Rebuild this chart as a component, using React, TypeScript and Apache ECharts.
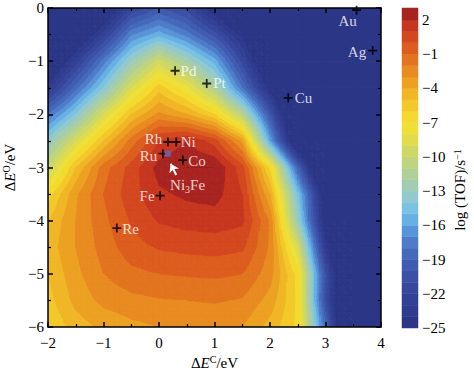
import React, { useEffect, useRef } from "react";
import * as echarts from "echarts";

// ---- sampled field: columns = ΔE^C (eV), rows = ΔE^O (eV) ----
const EC_GRID: number[] = [-2, -1.5, -1, -0.5, 0, 0.5, 1, 1.5, 2, 2.5, 3, 3.5, 4];
const EO_GRID: number[] = [0, -0.5, -1, -1.5, -2, -2.5, -3, -3.5, -4, -4.5, -5, -5.5, -6];

// log(TOF) (row = EO_GRID, column = EC_GRID)
const LOG_TOF: number[][] = [
  [-37, -32, -27, -22, -20, -21.5, -25.5, -30.5, -35.5, -40.5, -45.5, -50.5, -55.5],
  [-32, -27, -22.5, -17.2, -15.5, -17.5, -20.5, -24.5, -29.5, -34.5, -39.5, -44.5, -49.5],
  [-27.6, -22.6, -17.6, -13, -9.5, -12.3, -15.5, -21.5, -28, -34, -40, -46, -52],
  [-23.5, -18.5, -14, -9, -5.5, -7.8, -11.5, -18, -25, -31, -37, -43, -49],
  [-18, -14, -9, -5, -2.8, -4, -6, -11, -20, -30, -37, -43, -49],
  [-13.5, -9, -5, -1.6, 1.0, 2.0, 0.5, -3.4, -16, -28, -36, -43, -50],
  [-10, -5, -1.5, 0.4, 2.4, 3.0, 3.0, 0.4, -6.4, -19, -31, -40, -48],
  [-6.5, -3.2, -1.0, 0.6, 1.8, 2.2, 2.4, 1.0, -4, -14.5, -26, -36, -45],
  [-5, -3.0, -1.3, 0.1, 1.1, 1.4, 1.5, 1.2, -2.2, -13, -25.5, -35, -44],
  [-4.6, -3.0, -1.6, -0.4, 0.1, 0.3, 0.4, 0.2, -2.2, -9, -23.5, -34, -44],
  [-5, -3.3, -2.0, -1.3, -1.0, -0.9, -0.8, -1.0, -2.6, -6.5, -20.7, -31, -41],
  [-5.4, -3.7, -2.7, -2.3, -2.1, -2.0, -1.9, -2.1, -3.4, -6.3, -21, -32, -42],
  [-6, -4.5, -3.8, -3.3, -3.0, -2.9, -2.8, -3.0, -4.4, -6.3, -18.6, -33, -43],
];

// contour levels (log TOF) and colour-bar tick labels
const CONTOUR_LEVELS: number[] = [
  -25, -24, -23, -22, -21, -20, -19, -18, -17, -16, -15, -14, -13, -12, -11, -10,
  -9, -8, -7, -6, -5, -4, -3, -2, -1, 0, 1, 2, 3,
];
const CBAR_TICKS: number[] = [-25, -22, -19, -16, -13, -10, -7, -4, -1, 2];
const CBAR_TOP = 3.05;
const X_TICKS: number[] = [-2, -1, 0, 1, 2, 3, 4];
const Y_TICKS: number[] = [0, -1, -2, -3, -4, -5, -6];

// catalysts (crosses)
const METALS: string[] = ["Au", "Ag", "Cu", "Pd", "Pt", "Rh", "Ni", "Ru", "Co", "Fe", "Re"];
const METAL_EC: number[] = [3.56, 3.85, 2.33, 0.29, 0.86, 0.16, 0.31, 0.07, 0.43, 0.02, -0.76];
const METAL_EO: number[] = [-0.04, -0.8, -1.69, -1.18, -1.42, -2.52, -2.52, -2.74, -2.86, -3.53, -4.14];

// Ni3Fe alloy (blue marker) and its label / arrow
const NI3FE_POINT: number[] = [0.16, -2.74];
const NI3FE_LABEL_AT: number[] = [0.2, -3.33];
const NI3FE_ARROW: number[][] = [[0.31, -3.14], [0.21, -2.93]];

// ---------------- styles ----------------
const FONT = "'Liberation Serif', 'Times New Roman', 'DejaVu Serif', serif";
const CMAP: [number, string][] = [
  [-24.5, "#2c3687"],
  [-23, "#303d92"],
  [-21.5, "#36479c"],
  [-20, "#3d56ab"],
  [-18.5, "#4569bb"],
  [-17, "#5285cf"],
  [-16, "#5fa3e0"],
  [-15, "#70bde8"],
  [-14, "#86c7dc"],
  [-13, "#9bcbc0"],
  [-12, "#a9cda6"],
  [-11, "#b7d18c"],
  [-10, "#c7d672"],
  [-9, "#d8da58"],
  [-8, "#e8de42"],
  [-7, "#f4e130"],
  [-6, "#f4d22b"],
  [-5, "#f1bf28"],
  [-4, "#eeac24"],
  [-3, "#ea9620"],
  [-2, "#e57f1f"],
  [-1, "#df681e"],
  [0, "#d9521e"],
  [1, "#cf3e1f"],
  [2, "#be2d1f"],
  [2.5, "#a82420"],
  [3.3, "#9a1c1c"],
];

const LABEL_STYLE: Record<string, any> = {
  Au: { position: "bottom", distance: 0, offset: [-9, -1] },
  Ag: { position: "left", distance: 2, offset: [0, 1] },
  Cu: { position: "right", distance: 2, offset: [0, 0] },
  Pd: { position: "right", distance: 1, offset: [0, 0] },
  Pt: { position: "right", distance: 2, offset: [0, 0] },
  Rh: { position: "left", distance: 1, offset: [0, -3] },
  Ni: { position: "right", distance: 0, offset: [0, 0] },
  Ru: { position: "left", distance: 1, offset: [0, 2] },
  Co: { position: "right", distance: 1, offset: [0, 1] },
  Fe: { position: "left", distance: 1, offset: [0, 0] },
  Re: { position: "right", distance: 1, offset: [0, 1] },
};

const PLUS = "path://M3.6,0H5.4V3.6H9V5.4H5.4V9H3.6V5.4H0V3.6H3.6Z";

function hexToRgb(h: string) {
  return [parseInt(h.slice(1, 3), 16), parseInt(h.slice(3, 5), 16), parseInt(h.slice(5, 7), 16)];
}
function cmap(v: number): string {
  if (v <= CMAP[0][0]) return CMAP[0][1];
  for (let i = 1; i < CMAP.length; i++) {
    if (v <= CMAP[i][0]) {
      const [v0, c0] = CMAP[i - 1];
      const [v1, c1] = CMAP[i];
      const t = (v - v0) / (v1 - v0);
      const a = hexToRgb(c0);
      const b = hexToRgb(c1);
      const r = a.map((x, k) => Math.round(x + (b[k] - x) * t));
      return `rgb(${r[0]},${r[1]},${r[2]})`;
    }
  }
  return CMAP[CMAP.length - 1][1];
}

const NB = CONTOUR_LEVELS.length; // bands 0..NB-1
const BAND_COLORS: string[] = CONTOUR_LEVELS.map((lv, k) =>
  cmap(k < NB - 1 ? (lv + CONTOUR_LEVELS[k + 1]) / 2 : 3.3)
);

function bandOf(v: number): number {
  let k = 0;
  for (let i = 1; i < NB; i++) if (v >= CONTOUR_LEVELS[i]) k = i;
  return k;
}

type P = number[]; // [px, py, value]
function clip(poly: P[], t: number, keepAbove: boolean): P[] {
  const out: P[] = [];
  const n = poly.length;
  for (let i = 0; i < n; i++) {
    const a = poly[i];
    const b = poly[(i + 1) % n];
    const ina = keepAbove ? a[2] >= t : a[2] <= t;
    const inb = keepAbove ? b[2] >= t : b[2] <= t;
    if (ina) out.push(a);
    if (ina !== inb) {
      const r = (t - a[2]) / (b[2] - a[2]);
      out.push([a[0] + r * (b[0] - a[0]), a[1] + r * (b[1] - a[1]), t]);
    }
  }
  return out;
}

function polyEl(pts: number[][], color: string) {
  return {
    type: "polygon",
    silent: true,
    shape: { points: pts },
    style: { fill: color, stroke: color, lineWidth: 1, lineJoin: "round" },
  };
}

function addTri(tri: P[], children: any[]) {
  const vs = tri.map((p) => p[2]);
  const k0 = bandOf(Math.min(vs[0], vs[1], vs[2]));
  const k1 = bandOf(Math.max(vs[0], vs[1], vs[2]));
  if (k0 === k1) {
    children.push(polyEl(tri.map((p) => [p[0], p[1]]), BAND_COLORS[k0]));
    return;
  }
  for (let k = k0; k <= k1; k++) {
    let poly = tri;
    if (k > 0) poly = clip(poly, CONTOUR_LEVELS[k], true);
    if (poly.length >= 3 && k < NB - 1) poly = clip(poly, CONTOUR_LEVELS[k + 1], false);
    if (poly.length >= 3) children.push(polyEl(poly.map((p) => [p[0], p[1]]), BAND_COLORS[k]));
  }
}

const SUB = 5;
function renderField(params: any, api: any) {
  const i = api.value(0);
  const j = api.value(1);
  const xa = EC_GRID[i], xb = EC_GRID[i + 1];
  const ya = EO_GRID[j], yb = EO_GRID[j + 1];
  const q00 = LOG_TOF[j][i], q10 = LOG_TOF[j][i + 1];
  const q01 = LOG_TOF[j + 1][i], q11 = LOG_TOF[j + 1][i + 1];
  const children: any[] = [];
  const kmin = bandOf(Math.min(q00, q10, q01, q11));
  const kmax = bandOf(Math.max(q00, q10, q01, q11));
  if (kmin === kmax) {
    const pts = [[xa, ya], [xb, ya], [xb, yb], [xa, yb]].map((p) => api.coord(p));
    children.push(polyEl(pts, BAND_COLORS[kmin]));
    return { type: "group", children };
  }
  const g: P[][] = [];
  for (let b = 0; b <= SUB; b++) {
    const row: P[] = [];
    const w = b / SUB;
    for (let a = 0; a <= SUB; a++) {
      const u = a / SUB;
      const v = q00 * (1 - u) * (1 - w) + q10 * u * (1 - w) + q01 * (1 - u) * w + q11 * u * w;
      const p = api.coord([xa + u * (xb - xa), ya + w * (yb - ya)]);
      row.push([p[0], p[1], v]);
    }
    g.push(row);
  }
  for (let b = 0; b < SUB; b++) {
    for (let a = 0; a < SUB; a++) {
      addTri([g[b][a], g[b][a + 1], g[b + 1][a + 1]], children);
      addTri([g[b][a], g[b + 1][a + 1], g[b + 1][a]], children);
    }
  }
  return { type: "group", children };
}

function renderBar(params: any, api: any) {
  const k = params.dataIndex;
  const lo = CONTOUR_LEVELS[k];
  const hi = k < NB - 1 ? CONTOUR_LEVELS[k + 1] : CBAR_TOP;
  const p0 = api.coord([0, hi]);
  const p1 = api.coord([1, lo]);
  return {
    type: "rect",
    shape: { x: p0[0], y: p0[1], width: p1[0] - p0[0], height: p1[1] - p0[1] },
    style: { fill: BAND_COLORS[k], stroke: BAND_COLORS[k], lineWidth: 0.5 },
  };
}

const minus = (v: number) => String(v).replace("-", "\u2212");
const near = (arr: number[], v: number) => arr.some((t) => Math.abs(t - v) < 1e-6);

const frameAxis = (extra: any) => ({
  type: "value",
  gridIndex: 0,
  z: 10,
  interval: 1,
  splitLine: { show: false },
  axisLine: { show: true, onZero: false, lineStyle: { color: "#000", width: 1.5 } },
  axisTick: { show: true, inside: true, length: 5, lineStyle: { color: "#000", width: 1.5 } },
  minorTick: { show: true, splitNumber: 2, length: 3, lineStyle: { color: "#000", width: 1.2 } },
  ...extra,
});

const labelFont = { fontFamily: FONT, fontSize: 15, color: "#000" };

export default function App() {
  const ref = useRef<HTMLDivElement>(null);
  useEffect(() => {
    document.body.style.margin = "0";
    if (!ref.current) return;
    const chart = echarts.init(ref.current, undefined, { renderer: "svg" });

    const cells: number[][] = [];
    for (let j = 0; j < EO_GRID.length - 1; j++)
      for (let i = 0; i < EC_GRID.length - 1; i++) cells.push([i, j]);

    const nameRich = {
      d: { fontFamily: FONT, fontSize: 15, color: "#000", lineHeight: 16 },
      e: { fontFamily: FONT, fontSize: 15, fontStyle: "italic", color: "#000", lineHeight: 16 },
      s: { fontFamily: FONT, fontSize: 10, color: "#000", verticalAlign: "top", lineHeight: 10 },
    };

    const option: any = {
      animation: false,
      backgroundColor: "#ffffff",
      grid: [
        { left: 48, top: 8, width: 333, height: 319, containLabel: false, outerBoundsMode: "none" },
        { left: 402, top: 8, width: 16, height: 320, containLabel: false, outerBoundsMode: "none" },
      ],
      xAxis: [
        frameAxis({
          min: -2,
          max: 4,
          position: "bottom",
          axisLabel: {
            ...labelFont,
            margin: 8,
            formatter: (v: number) => (near(X_TICKS, v) ? minus(v) : ""),
          },
          name: "{d|Δ}{e|E}{s|C}{d|/eV}",
          nameLocation: "middle",
          nameGap: 22,
          nameTextStyle: { rich: nameRich },
        }),
        frameAxis({ min: -2, max: 4, position: "top", axisLabel: { show: false } }),
        { type: "value", gridIndex: 1, min: 0, max: 1, show: false },
      ],
      yAxis: [
        frameAxis({
          min: -6,
          max: 0,
          position: "left",
          axisLabel: {
            ...labelFont,
            margin: 4,
            formatter: (v: number) => (near(Y_TICKS, v) ? minus(v) : ""),
          },
          name: "{d|Δ}{e|E}{s|O}{d|/eV}",
          nameLocation: "middle",
          nameRotate: 90,
          nameGap: 29,
          nameTextStyle: { rich: nameRich },
        }),
        frameAxis({ min: -6, max: 0, position: "right", axisLabel: { show: false } }),
        {
          type: "value",
          gridIndex: 1,
          min: -25,
          max: CBAR_TOP,
          interval: 3,
          position: "right",
          axisLine: { show: false },
          axisTick: { show: false },
          splitLine: { show: false },
          axisLabel: {
            ...labelFont,
            margin: 4,
            showMaxLabel: false,
            formatter: (v: number) => (near(CBAR_TICKS, v) ? minus(Math.round(v)) : ""),
          },
        },
      ],
      graphic: [
        {
          type: "text",
          x: 460,
          y: 190,
          rotation: Math.PI / 2,
          style: {
            text: "{d|log (TOF)/s}{s|\u22121}",
            rich: nameRich,
            align: "center",
            verticalAlign: "middle",
          },
        },
      ],
      series: [
        {
          type: "custom",
          xAxisIndex: 0,
          yAxisIndex: 0,
          renderItem: renderField,
          data: cells,
          clip: true,
          silent: true,
          z: 1,
        },
        {
          type: "custom",
          xAxisIndex: 2,
          yAxisIndex: 2,
          renderItem: renderBar,
          data: CONTOUR_LEVELS.map((lv) => [0, lv]),
          silent: true,
          z: 1,
        },
        {
          type: "scatter",
          xAxisIndex: 0,
          yAxisIndex: 0,
          symbol: PLUS,
          symbolSize: 9,
          itemStyle: { color: "#000" },
          z: 5,
          label: { show: true, formatter: "{b}", color: "#fff", fontFamily: FONT, fontSize: 15 },
          data: METALS.map((n, i) => ({
            name: n,
            value: [METAL_EC[i], METAL_EO[i]],
            label: LABEL_STYLE[n],
          })),
        },
        {
          type: "scatter",
          xAxisIndex: 0,
          yAxisIndex: 0,
          symbol: "rect",
          symbolSize: 6,
          itemStyle: { color: "#5a6cc4" },
          z: 6,
          data: [NI3FE_POINT],
        },
        {
          type: "scatter",
          xAxisIndex: 0,
          yAxisIndex: 0,
          symbolSize: 0,
          z: 6,
          label: {
            show: true,
            position: "right",
            distance: 0,
            formatter: "{a|Ni}{b|3}{a|Fe}",
            rich: {
              a: { color: "#fff", fontFamily: FONT, fontSize: 15, lineHeight: 18 },
              b: { color: "#fff", fontFamily: FONT, fontSize: 10, lineHeight: 10, verticalAlign: "bottom" },
            },
          },
          data: [NI3FE_LABEL_AT],
        },
        {
          type: "lines",
          coordinateSystem: "cartesian2d",
          xAxisIndex: 0,
          yAxisIndex: 0,
          z: 6,
          symbol: ["none", "arrow"],
          symbolSize: 8,
          lineStyle: { color: "#fff", width: 2, opacity: 1 },
          data: [{ coords: NI3FE_ARROW }],
        },
      ],
    };
    chart.setOption(option);
    return () => chart.dispose();
  }, []);
  return <div ref={ref} style={{ width: 474, height: 370 }} />;
}
